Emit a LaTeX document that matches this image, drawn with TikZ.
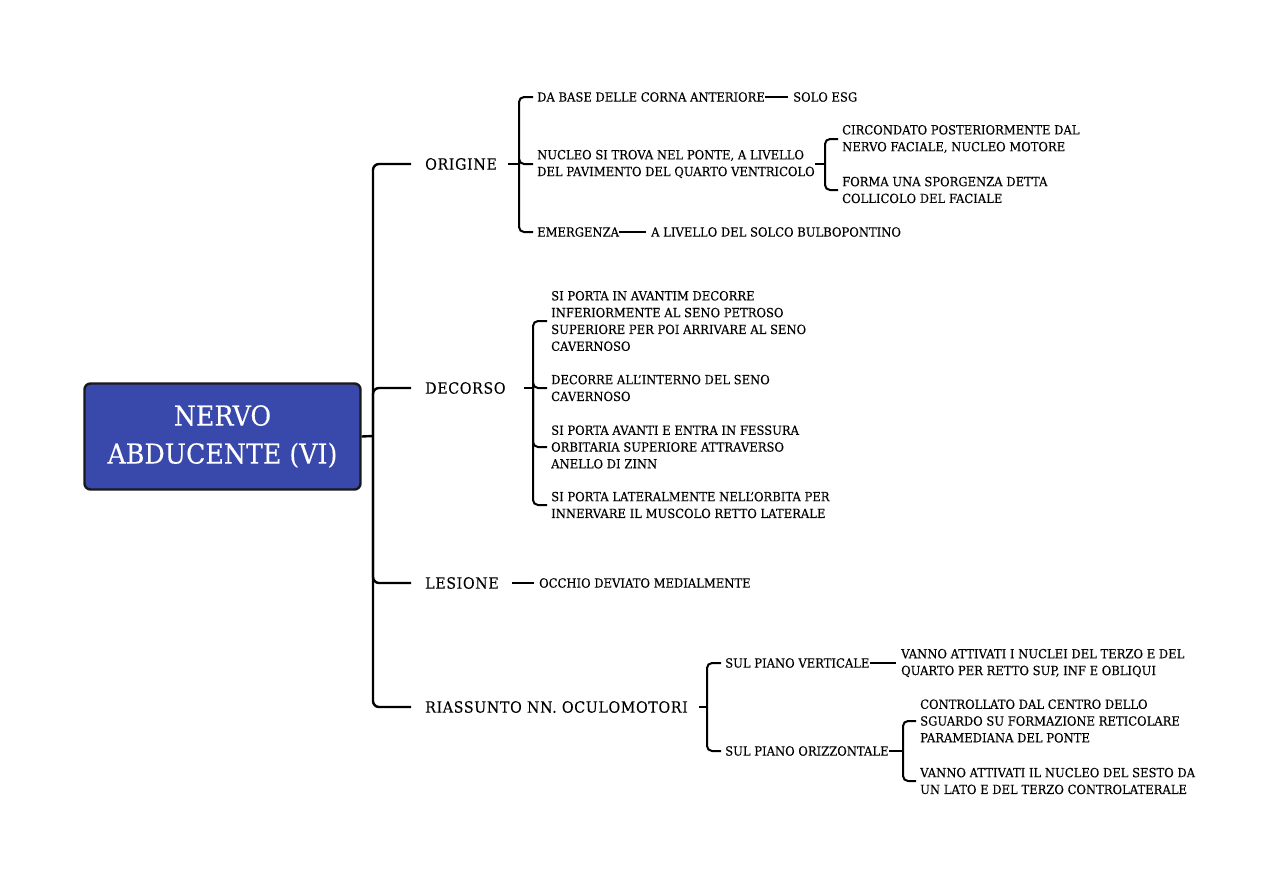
\documentclass[tikz,border=0pt]{standalone}
\usepackage{fontspec}
\setmainfont{DejaVu Serif}[FakeStretch=0.92, FakeBold=0.15]
\definecolor{rootblue}{RGB}{57,73,171}
\begin{document}
\begin{tikzpicture}[
  x=1pt, y=-1pt,
  rootnode/.style={draw=black!90, line width=2.4pt, fill=rootblue, rounded corners=6pt,
    minimum width=276pt, minimum height=106pt, text=white, align=center,
    font=\fontsize{27.5}{38}\selectfont},
  topic/.style={anchor=west, inner sep=0pt, font=\fontsize{15.5}{18}\selectfont\addfontfeature{LetterSpace=4}},
  leaf/.style={anchor=west, inner sep=0pt, align=left, font=\fontsize{12.6}{16.8}\selectfont},
  conn/.style={line width=2.4pt, rounded corners=6pt, draw=black},
  subconn/.style={line width=2pt, rounded corners=5pt, draw=black}
]
  \useasboundingbox (0,0) rectangle (1280,889);

  % Nodo centrale
  \node[rootnode] (root) at (222.5,436.5) {NERVO\\ABDUCENTE (VI)};

  % Rami principali
  \node[topic] (origine)   at (425,164) {ORIGINE};
  \node[topic] (decorso)   at (425,388) {DECORSO};
  \node[topic] (lesione)   at (425,583) {LESIONE};
  \node[topic] (riassunto) at (425,707) {RIASSUNTO NN. OCULOMOTORI};

  \coordinate (s0) at (373,436);
  \draw[conn] (root.east) -- (s0);
  \foreach \t in {origine,decorso,lesione,riassunto}
    \draw[conn] (s0) |- ([xshift=-14pt]\t.west);

  % Origine
  \node[leaf] (o1)  at (537,97)  {DA BASE DELLE CORNA ANTERIORE};
  \node[leaf] (o1a) at (793,97)  {SOLO ESG};
  \node[leaf] (o2)  at (537,164) {NUCLEO SI TROVA NEL PONTE, A LIVELLO\\DEL PAVIMENTO DEL QUARTO VENTRICOLO};
  \node[leaf] (o2a) at (842,139) {CIRCONDATO POSTERIORMENTE DAL\\NERVO FACIALE, NUCLEO MOTORE};
  \node[leaf] (o2b) at (842,190) {FORMA UNA SPORGENZA DETTA\\COLLICOLO DEL FACIALE};
  \node[leaf] (o3)  at (537,232) {EMERGENZA};
  \node[leaf] (o3a) at (651,232) {A LIVELLO DEL SOLCO BULBOPONTINO};

  \coordinate (s1) at (519,164);
  \draw[subconn] ([xshift=11pt]origine.east) -- (s1);
  \foreach \c in {o1,o2,o3}
    \draw[subconn] (s1) |- ([xshift=-4pt]\c.west);
  \draw[subconn] (o1.east) -- ([xshift=-5pt]o1a.west);
  \draw[subconn] (o3.east) -- ([xshift=-5pt]o3a.west);
  \coordinate (s2) at (825,164);
  \draw[subconn] (o2.east) -- (s2);
  \foreach \c in {o2a,o2b}
    \draw[subconn] (s2) |- ([xshift=-4pt]\c.west);

  % Decorso
  \node[leaf] (d1) at (551,321) {SI PORTA IN AVANTIM DECORRE\\INFERIORMENTE AL SENO PETROSO\\SUPERIORE PER POI ARRIVARE AL SENO\\CAVERNOSO};
  \node[leaf] (d2) at (551,388) {DECORRE ALL'INTERNO DEL SENO\\CAVERNOSO};
  \node[leaf] (d3) at (551,447) {SI PORTA AVANTI E ENTRA IN FESSURA\\ORBITARIA SUPERIORE ATTRAVERSO\\ANELLO DI ZINN};
  \node[leaf] (d4) at (551,505) {SI PORTA LATERALMENTE NELL'ORBITA PER\\INNERVARE IL MUSCOLO RETTO LATERALE};

  \coordinate (s3) at (533,388);
  \draw[subconn] ([xshift=18pt]decorso.east) -- (s3);
  \foreach \c in {d1,d2,d3,d4}
    \draw[subconn] (s3) |- ([xshift=-4pt]\c.west);

  % Lesione
  \node[leaf] (l1) at (539,583) {OCCHIO DEVIATO MEDIALMENTE};
  \draw[subconn] ([xshift=13pt]lesione.east) -- ([xshift=-5pt]l1.west);

  % Riassunto nn. oculomotori
  \node[leaf] (r1)  at (725,663) {SUL PIANO VERTICALE};
  \node[leaf] (r1a) at (901,663) {VANNO ATTIVATI I NUCLEI DEL TERZO E DEL\\QUARTO PER RETTO SUP, INF E OBLIQUI};
  \node[leaf] (r2)  at (725,751) {SUL PIANO ORIZZONTALE};
  \node[leaf] (r2a) at (920,721) {CONTROLLATO DAL CENTRO DELLO\\SGUARDO SU FORMAZIONE RETICOLARE\\PARAMEDIANA DEL PONTE};
  \node[leaf] (r2b) at (920,781) {VANNO ATTIVATI IL NUCLEO DEL SESTO DA\\UN LATO E DEL TERZO CONTROLATERALE};

  \coordinate (s4) at (707,707);
  \draw[subconn] ([xshift=11pt]riassunto.east) -- (s4);
  \foreach \c in {r1,r2}
    \draw[subconn] (s4) |- ([xshift=-4pt]\c.west);
  \draw[subconn] (r1.east) -- ([xshift=-5pt]r1a.west);
  \coordinate (s5) at (903,751);
  \draw[subconn] (r2.east) -- (s5);
  \foreach \c in {r2a,r2b}
    \draw[subconn] (s5) |- ([xshift=-4pt]\c.west);
\end{tikzpicture}
\end{document}
